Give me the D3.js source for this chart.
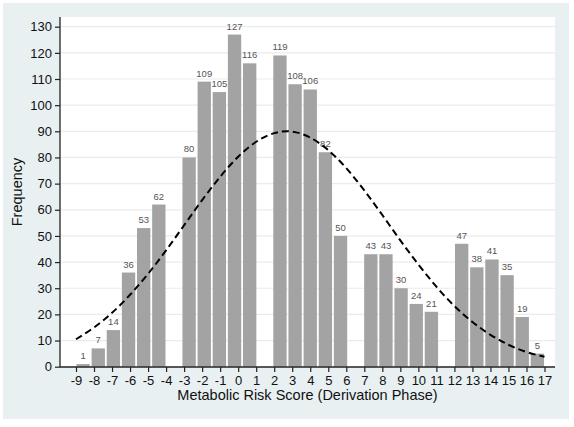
<!DOCTYPE html>
<html>
<head>
<meta charset="utf-8">
<script src="https://cdn.jsdelivr.net/npm/d3@7"></script>
<style>
  html, body { margin: 0; padding: 0; background: #ffffff; }
  svg { display: block; font-family: "Liberation Sans", Arial, Helvetica, sans-serif; }
</style>
</head>
<body>
<svg id="chart" width="574" height="427"></svg>
<script>
// ---- data ----
const binCounts = [1, 7, 14, 36, 53, 62, 0, 80, 109, 105, 127, 116, 0, 119, 108, 106, 82, 50, 0, 43, 43, 30, 24, 21, 0, 47, 38, 41, 35, 19, 5];
const xTicks = [-9, -8, -7, -6, -5, -4, -3, -2, -1, 0, 1, 2, 3, 4, 5, 6, 7, 8, 9, 10, 11, 12, 13, 14, 15, 16, 17];
const yTicks = [0, 10, 20, 30, 40, 50, 60, 70, 80, 90, 100, 110, 120, 130];
const curveX = [-9, -8, -7, -6, -5, -4, -3, -2, -1, 0, 1, 2, 3, 4, 5, 6, 7, 8, 9, 10, 11, 12, 13, 14, 15, 16, 17];
const curveY = [10.5, 15.0, 20.6, 27.5, 35.5, 44.5, 54.1, 63.7, 72.6, 80.3, 86.0, 89.3, 89.9, 87.6, 82.8, 75.9, 67.4, 58.0, 48.3, 39.1, 30.6, 23.2, 17.1, 12.2, 8.4, 5.6, 3.8];
const xTitle = "Metabolic Risk Score (Derivation Phase)";
const yTitle = "Frequency";

// ---- layout ----
const svg = d3.select("#chart");
const outer = { x: 3, y: 3, w: 566, h: 416 };
const plot = { left: 60, right: 555, top: 17, bottom: 367 };

svg.append("rect")
  .attr("x", outer.x).attr("y", outer.y)
  .attr("width", outer.w).attr("height", outer.h)
  .attr("fill", "#e9f0f2");

svg.append("rect")
  .attr("x", plot.left).attr("y", plot.top)
  .attr("width", plot.right - plot.left).attr("height", plot.bottom - plot.top)
  .attr("fill", "#ffffff");

const x = d3.scaleLinear().domain([-9, 17]).range([76, 544.5]);
const y = d3.scaleLinear().domain([0, 130]).range([366.7, 26.7]);
const band = d3.scaleBand()
  .domain(d3.range(binCounts.length))
  .range([x(-9), x(17)])
  .paddingInner(0.12)
  .paddingOuter(0.03);

// grid lines
svg.append("g").selectAll("line")
  .data(yTicks.filter(d => d > 0))
  .join("line")
  .attr("x1", plot.left + 1).attr("x2", plot.right)
  .attr("y1", d => y(d)).attr("y2", d => y(d))
  .attr("stroke", "#ebebeb").attr("stroke-width", 1.2);

// bars
const bars = binCounts.map((v, i) => ({ i, v })).filter(d => d.v > 0);
svg.append("g").selectAll("rect")
  .data(bars)
  .join("rect")
  .attr("x", d => band(d.i))
  .attr("width", band.bandwidth())
  .attr("y", d => y(d.v))
  .attr("height", d => y(0) - y(d.v))
  .attr("fill", "#a3a3a3");

// bar labels
svg.append("g").selectAll("text")
  .data(bars)
  .join("text")
  .attr("x", d => band(d.i) + band.bandwidth() / 2)
  .attr("y", d => y(d.v) - 5)
  .attr("text-anchor", "middle")
  .attr("font-size", 9.5)
  .attr("fill", "#555555")
  .text(d => d.v);

// normal curve
const line = d3.line()
  .x((d, i) => x(curveX[i]))
  .y(d => y(d))
  .curve(d3.curveNatural);
svg.append("path")
  .datum(curveY)
  .attr("d", line)
  .attr("fill", "none")
  .attr("stroke", "#000000")
  .attr("stroke-width", 2)
  .attr("stroke-dasharray", "7,4");

// axes
const yAxis = d3.axisLeft(y).tickValues(yTicks).tickFormat(d => String(d)).tickSize(5).tickPadding(3);
const gy = svg.append("g").attr("transform", `translate(${plot.left},0)`).call(yAxis);
gy.select(".domain").attr("d", `M0,${plot.top}V${plot.bottom}`);

const xAxis = d3.axisBottom(x).tickValues(xTicks).tickFormat(d => String(d)).tickSize(5).tickPadding(4);
const gx = svg.append("g").attr("transform", `translate(0,${plot.bottom})`).call(xAxis);
gx.select(".domain").attr("d", `M${plot.left},0H${plot.right}`);

[gx, gy].forEach(g => {
  g.select(".domain").attr("stroke", "#222").attr("stroke-width", 1.3);
  g.selectAll(".tick line").attr("stroke", "#222").attr("stroke-width", 1.2);
  g.selectAll(".tick text").attr("font-size", 13).attr("fill", "#111")
    .attr("font-family", "Liberation Sans, Arial, sans-serif");
});

// titles
svg.append("text")
  .attr("x", (plot.left + plot.right) / 2)
  .attr("y", 400)
  .attr("text-anchor", "middle")
  .attr("font-size", 14.5)
  .attr("fill", "#111")
  .text(xTitle);

svg.append("text")
  .attr("transform", `translate(22,${(plot.top + plot.bottom) / 2}) rotate(-90)`)
  .attr("text-anchor", "middle")
  .attr("font-size", 14.5)
  .attr("fill", "#111")
  .text(yTitle);
</script>
</body>
</html>
